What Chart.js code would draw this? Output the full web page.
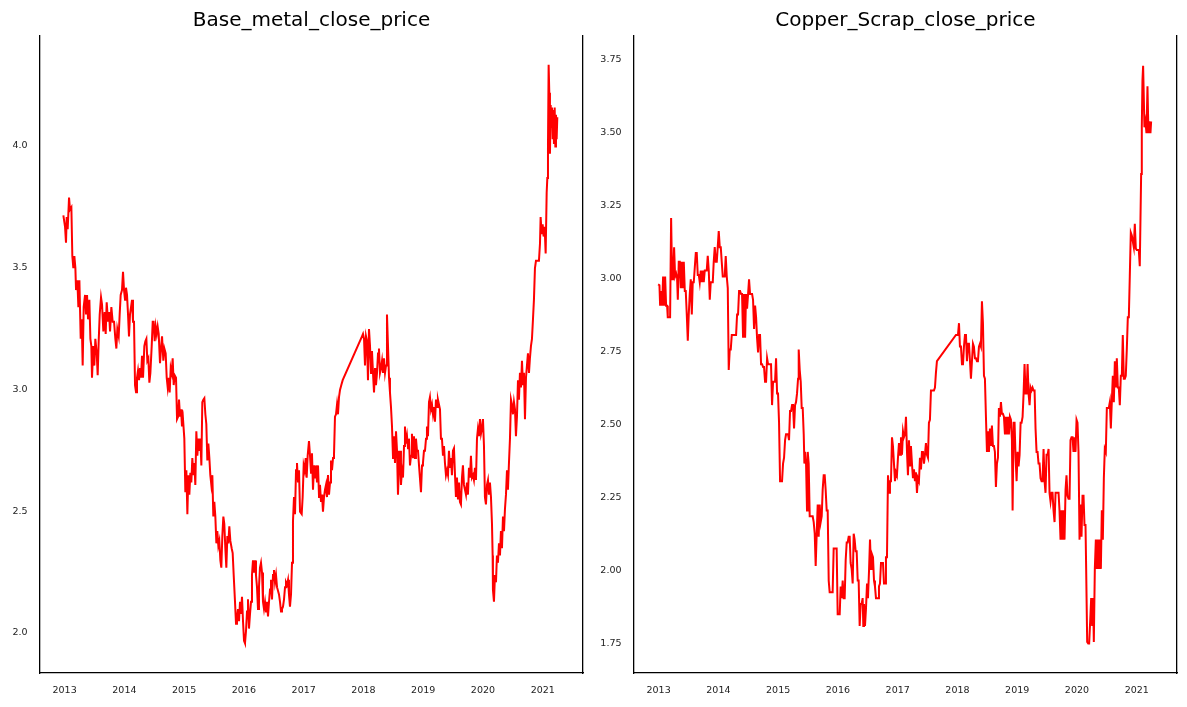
<!DOCTYPE html>
<html><head><meta charset="utf-8">
<script src="https://cdn.jsdelivr.net/npm/chart.js@4.4.1/dist/chart.umd.min.js"></script>
<style>
html,body{margin:0;padding:0;background:#fff;overflow:hidden;width:1187px;height:707px;}
#wrap{position:relative;width:1187px;height:707px;overflow:hidden;background:#fff;}
canvas{position:absolute;top:0;}
#c1{left:0px;} #c2{left:594px;}
</style></head><body>
<div id="wrap"><canvas id="c1" width="623" height="707"></canvas><canvas id="c2" width="623" height="707"></canvas></div>
<script>
const yearTicks = [2013, 2014, 2015, 2016, 2017, 2018, 2019, 2020, 2021];
const baseTicks = [2.0, 2.5, 3.0, 3.5, 4.0];
const scrapTicks = [1.75, 2.00, 2.25, 2.50, 2.75, 3.00, 3.25, 3.50, 3.75];

const baseDates = [
2012.979,2013.007,2013.023,2013.035,2013.051,2013.074,2013.090,2013.113,2013.129,2013.146,2013.163,2013.180,2013.191,2013.213,2013.230,2013.247,2013.269,2013.286,2013.302,2013.319,
2013.342,2013.358,2013.375,2013.392,2013.414,2013.431,2013.447,2013.458,2013.481,2013.497,2013.514,2013.537,2013.553,2013.570,2013.587,2013.609,2013.626,2013.648,2013.670,2013.687,
2013.704,2013.726,2013.743,2013.760,2013.782,2013.804,2013.827,2013.849,2013.866,2013.882,2013.905,2013.921,2013.938,2013.960,2013.977,2013.994,2014.011,2014.027,2014.044,2014.061,
2014.077,2014.094,2014.111,2014.128,2014.144,2014.161,2014.178,2014.195,2014.211,2014.228,2014.245,2014.262,2014.278,2014.295,2014.312,2014.334,2014.351,2014.368,2014.384,2014.401,
2014.418,2014.435,2014.457,2014.474,2014.490,2014.507,2014.524,2014.541,2014.557,2014.574,2014.596,2014.613,2014.630,2014.652,2014.669,2014.691,2014.708,2014.725,2014.741,2014.758,
2014.775,2014.792,2014.808,2014.825,2014.842,2014.864,2014.881,2014.898,2014.914,2014.931,2014.948,2014.964,2014.981,2015.003,2015.020,2015.037,2015.054,2015.070,2015.087,2015.104,
2015.120,2015.137,2015.154,2015.171,2015.187,2015.204,2015.221,2015.238,2015.254,2015.271,2015.288,2015.304,2015.321,2015.338,2015.355,2015.371,2015.388,2015.405,2015.422,2015.438,
2015.455,2015.472,2015.488,2015.505,2015.522,2015.539,2015.555,2015.572,2015.589,2015.606,2015.622,2015.639,2015.656,2015.672,2015.689,2015.706,2015.723,2015.739,2015.756,2015.773,
2015.795,2015.812,2015.829,2015.851,2015.868,2015.884,2015.901,2015.918,2015.935,2015.951,2015.968,2015.985,2016.002,2016.018,2016.035,2016.052,2016.068,2016.085,2016.102,2016.119,
2016.135,2016.152,2016.169,2016.186,2016.202,2016.219,2016.236,2016.252,2016.269,2016.286,2016.303,2016.319,2016.336,2016.353,2016.370,2016.386,2016.403,2016.420,2016.437,2016.453,
2016.470,2016.487,2016.503,2016.520,2016.537,2016.554,2016.570,2016.587,2016.604,2016.621,2016.637,2016.654,2016.671,2016.688,2016.704,2016.721,2016.738,2016.754,2016.771,2016.788,
2016.805,2016.821,2016.838,2016.855,2016.872,2016.888,2016.905,2016.922,
2016.939,2016.967,2016.983,2017.000,2017.017,2017.034,2017.050,2017.067,2017.089,2017.106,2017.123,2017.139,2017.156,2017.173,2017.190,2017.206,2017.223,2017.240,2017.257,2017.273,
2017.290,2017.307,2017.323,2017.340,2017.357,2017.374,2017.390,2017.407,2017.424,2017.441,2017.457,2017.474,2017.491,2017.507,2017.524,2017.541,2017.558,2017.574,2017.591,2017.608,
2017.630,2017.653,2017.976,2017.993,2018.010,2018.026,2018.043,2018.060,2018.076,2018.093,2018.110,2018.127,2018.143,2018.160,2018.177,2018.194,2018.210,2018.227,2018.244,2018.260,
2018.277,2018.294,2018.311,2018.327,2018.344,2018.361,2018.378,2018.394,2018.411,2018.428,2018.444,2018.461,2018.478,2018.495,2018.511,2018.528,2018.545,2018.562,2018.578,2018.595,
2018.612,2018.628,2018.645,2018.662,2018.679,2018.695,2018.712,2018.729,2018.746,2018.762,2018.779,2018.796,2018.812,2018.829,2018.846,2018.863,2018.879,2018.896,2018.913,2018.930,
2018.946,2018.963,2018.980,2018.996,2019.013,2019.030,2019.047,2019.063,2019.080,2019.097,2019.113,2019.130,2019.147,2019.164,2019.180,2019.197,2019.214,2019.231,2019.247,2019.264,
2019.281,2019.297,2019.314,2019.331,2019.348,2019.364,2019.381,2019.398,2019.415,2019.431,2019.448,2019.465,2019.481,2019.498,2019.515,2019.532,2019.548,2019.565,2019.582,2019.599,
2019.615,2019.632,2019.649,2019.665,2019.682,2019.699,2019.716,2019.732,2019.749,2019.766,2019.783,2019.799,2019.816,2019.833,2019.849,2019.866,2019.883,2019.900,2019.916,2019.933,
2019.950,2019.967,2019.983,2020.000,2020.017,2020.033,2020.050,2020.067,2020.084,2020.100,2020.117,2020.134,2020.151,2020.162,2020.167,2020.184,2020.201,2020.218,2020.234,2020.251,
2020.268,2020.285,2020.301,2020.318,2020.335,2020.352,2020.368,2020.385,2020.402,2020.418,2020.435,2020.452,2020.469,2020.485,2020.502,2020.519,2020.536,2020.552,2020.569,2020.586,
2020.602,2020.619,2020.636,2020.653,2020.669,2020.686,2020.703,2020.720,2020.736,2020.753,2020.770,2020.786,2020.803,2020.820,2020.837,2020.853,2020.870,2020.887,2020.904,2020.920,
2020.937,2020.954,2020.965,2020.982,2020.999,2021.015,2021.032,2021.049,2021.066,2021.077,2021.088,2021.099,2021.110,2021.121,2021.133,2021.144,2021.155,2021.166,2021.177,2021.188,
2021.200,2021.211,2021.222,2021.233,2021.244
];
const basePrices = [
3.707,3.66,3.595,3.70,3.65,3.78,3.73,3.74,3.54,3.49,3.54,3.49,3.40,3.44,3.33,3.44,3.20,3.28,3.09,3.33,
3.38,3.30,3.38,3.28,3.36,3.20,3.17,3.04,3.17,3.09,3.20,3.14,3.05,3.19,3.30,3.37,3.34,3.23,3.31,3.22,
3.35,3.27,3.31,3.23,3.33,3.27,3.27,3.20,3.16,3.24,3.21,3.30,3.38,3.40,3.475,3.40,3.36,3.41,3.38,3.30,
3.21,3.30,3.33,3.36,3.27,3.27,3.01,2.98,3.04,3.07,3.03,3.08,3.04,3.13,3.04,3.17,3.19,3.20,3.11,3.12,
3.02,3.06,3.17,3.27,3.27,3.19,3.25,3.22,3.25,3.22,3.10,3.16,3.21,3.11,3.16,3.14,3.04,3.00,3.04,2.98,
3.08,3.06,3.12,3.01,3.05,3.04,2.87,2.88,2.95,2.88,2.91,2.84,2.87,2.79,2.57,2.66,2.48,2.64,2.56,2.65,
2.61,2.71,2.64,2.69,2.60,2.82,2.72,2.79,2.74,2.79,2.68,2.94,2.95,2.956,2.89,2.85,2.70,2.77,2.71,2.64,
2.60,2.64,2.47,2.53,2.47,2.36,2.41,2.35,2.37,2.29,2.26,2.39,2.47,2.44,2.34,2.26,2.39,2.36,2.43,2.37,
2.34,2.32,2.23,2.12,2.03,2.05,2.09,2.04,2.12,2.07,2.14,2.04,1.96,1.95,2.00,2.08,2.13,2.01,2.07,2.12,
2.23,2.29,2.24,2.29,2.23,2.18,2.09,2.18,2.26,2.28,2.24,2.12,2.09,2.12,2.08,2.12,2.06,2.12,2.17,2.21,
2.13,2.23,2.25,2.20,2.23,2.18,2.18,2.15,2.12,2.08,2.09,2.10,2.13,2.18,2.20,2.19,2.21,2.15,2.10,2.15,
2.28,2.45,2.55,2.48,2.66,2.69,2.61,2.66,
2.49,2.48,2.55,2.68,2.66,2.71,2.63,2.72,2.78,2.72,2.65,2.73,2.58,2.68,2.63,2.68,2.61,2.68,2.55,2.60,
2.53,2.56,2.49,2.55,2.58,2.60,2.55,2.64,2.56,2.61,2.70,2.66,2.71,2.72,2.88,2.89,2.93,2.89,2.96,2.99,
3.01,3.03,3.21,3.22,3.20,3.09,3.21,3.19,3.03,3.24,3.17,3.06,3.15,3.06,2.98,3.08,3.01,3.06,3.14,3.16,
3.06,3.08,3.11,3.06,3.12,3.06,3.09,3.30,3.17,3.04,2.98,2.92,2.84,2.71,2.80,2.69,2.82,2.74,2.56,2.68,
2.74,2.60,2.66,2.63,2.76,2.84,2.77,2.80,2.75,2.79,2.68,2.72,2.81,2.71,2.80,2.71,2.79,2.74,2.74,2.68,
2.68,2.57,2.68,2.69,2.74,2.74,2.79,2.84,2.80,2.94,2.96,2.91,2.93,2.89,2.92,2.86,2.95,2.92,2.95,2.93,
2.91,2.79,2.79,2.72,2.76,2.69,2.64,2.66,2.64,2.74,2.67,2.71,2.64,2.74,2.75,2.64,2.55,2.63,2.54,2.61,
2.53,2.52,2.63,2.68,2.60,2.58,2.56,2.61,2.56,2.67,2.63,2.72,2.63,2.64,2.62,2.67,2.62,2.79,2.83,2.80,
2.87,2.81,2.83,2.87,2.76,2.55,2.52,2.60,2.62,2.56,2.61,2.55,2.44,2.31,2.17,2.12,2.23,2.20,2.31,2.28,
2.36,2.31,2.41,2.34,2.47,2.41,2.50,2.56,2.66,2.58,2.69,2.79,2.95,2.93,2.89,2.94,2.91,2.80,2.88,3.03,
2.95,3.06,3.00,3.11,3.01,3.06,2.87,3.04,3.09,3.14,3.06,3.12,3.17,3.20,3.28,3.36,3.49,3.52,3.52,3.52,
3.52,3.59,3.70,3.63,3.67,3.62,3.66,3.55,3.80,3.86,3.99,4.325,4.21,3.96,4.16,4.07,4.15,4.02,4.14,4.00,
4.15,3.99,4.12,4.02,4.11
];

const scrapDates = [
2012.992,2013.014,2013.025,2013.042,2013.059,2013.075,2013.092,2013.109,2013.125,2013.142,2013.153,2013.192,2013.209,2013.226,2013.242,2013.259,2013.276,2013.293,2013.309,2013.321,
2013.337,2013.354,2013.371,2013.387,2013.404,2013.421,2013.438,2013.454,2013.471,2013.488,2013.504,2013.521,2013.538,2013.555,2013.571,2013.588,2013.605,2013.622,2013.638,2013.655,
2013.672,2013.688,2013.705,2013.722,2013.739,2013.755,2013.772,2013.789,2013.805,2013.822,2013.839,2013.856,2013.872,2013.906,2013.922,2013.939,2013.956,2013.973,2013.989,2014.006,
2014.023,2014.040,2014.056,2014.073,2014.090,2014.106,2014.123,2014.140,2014.157,2014.173,2014.190,2014.207,2014.224,2014.263,2014.296,2014.313,2014.329,2014.346,2014.363,2014.380,
2014.396,2014.413,2014.430,2014.447,2014.463,2014.480,2014.497,2014.513,2014.530,2014.547,2014.564,2014.580,2014.597,2014.614,2014.631,2014.647,2014.664,2014.681,2014.697,2014.714,
2014.731,2014.748,2014.764,2014.781,2014.798,2014.815,2014.831,2014.848,2014.865,2014.881,2014.898,2014.915,2014.932,2014.948,2014.965,2014.982,2014.998,2015.015,2015.032,2015.049,
2015.065,2015.082,2015.099,2015.116,2015.132,2015.149,2015.166,2015.182,2015.199,2015.216,2015.233,2015.249,2015.266,2015.283,2015.299,2015.316,2015.333,2015.344,2015.361,2015.378,
2015.394,2015.411,2015.428,2015.439,2015.450,2015.467,2015.483,2015.495,2015.511,2015.528,2015.545,2015.561,2015.578,2015.595,2015.612,2015.628,2015.645,2015.662,2015.678,2015.695,
2015.712,2015.729,2015.745,2015.762,2015.779,2015.795,2015.812,2015.829,2015.846,2015.862,2015.879,2015.896,2015.912,2015.929,2015.946,2015.963,2015.979,2015.996,2016.013,2016.030,
2016.046,2016.063,2016.080,2016.096,2016.113,2016.130,2016.147,2016.163,2016.180,2016.197,2016.213,2016.230,2016.247,2016.264,2016.280,2016.297,2016.314,2016.331,2016.347,2016.364,
2016.381,2016.397,2016.414,2016.425,2016.436,2016.453,2016.470,2016.487,2016.503,2016.520,2016.537,2016.554,2016.570,2016.587,2016.604,2016.620,2016.637,2016.654,2016.671,2016.687,
2016.704,2016.721,2016.737,2016.754,2016.771,2016.788,2016.804,2016.821,2016.838,2016.855,2016.871,2016.888,2016.905,2016.921,
2016.938,2016.955,2016.972,2016.988,2017.005,2017.022,2017.039,2017.055,2017.072,2017.089,2017.105,2017.122,2017.139,2017.156,2017.172,2017.189,2017.206,2017.222,2017.239,2017.256,
2017.273,2017.289,2017.306,2017.323,2017.339,2017.356,2017.373,2017.390,2017.406,2017.423,2017.440,2017.456,2017.473,2017.490,2017.507,2017.523,2017.540,2017.557,2017.574,2017.590,
2017.607,2017.624,2017.640,2017.657,2017.975,2018.009,2018.026,2018.042,2018.059,2018.076,2018.093,2018.109,2018.126,2018.143,2018.159,2018.176,2018.193,2018.210,2018.226,2018.243,
2018.260,2018.276,2018.293,2018.310,2018.327,2018.343,2018.360,2018.377,2018.393,2018.410,2018.427,2018.444,2018.460,2018.477,2018.494,2018.510,2018.527,2018.544,2018.561,2018.577,
2018.594,2018.611,2018.627,2018.644,2018.661,2018.678,2018.694,2018.711,2018.728,2018.744,2018.761,2018.778,2018.795,2018.811,2018.828,2018.845,2018.861,2018.878,2018.895,2018.912,
2018.923,2018.940,2018.956,2018.973,2018.990,2019.006,2019.023,2019.040,2019.057,2019.073,2019.090,2019.107,2019.123,2019.140,2019.157,2019.174,2019.190,2019.207,2019.224,2019.240,
2019.257,2019.274,2019.291,2019.307,2019.324,2019.341,2019.357,2019.374,2019.391,2019.408,2019.424,2019.441,2019.458,2019.474,2019.491,2019.508,2019.525,2019.541,2019.558,2019.575,
2019.591,2019.608,2019.625,2019.642,2019.658,2019.675,2019.692,2019.708,2019.725,2019.742,2019.759,2019.775,2019.792,2019.809,2019.825,2019.842,2019.859,2019.876,2019.892,2019.909,
2019.926,2019.942,2019.959,2019.976,2019.993,2020.009,2020.026,2020.043,2020.060,2020.076,2020.093,2020.110,2020.126,2020.143,2020.154,2020.171,2020.188,2020.204,2020.221,2020.238,
2020.254,2020.271,2020.282,2020.299,2020.316,2020.333,2020.349,2020.366,2020.383,2020.400,2020.416,2020.433,2020.450,2020.466,2020.483,2020.500,2020.517,2020.533,2020.550,2020.567,
2020.583,2020.600,2020.617,2020.634,2020.650,2020.667,2020.684,2020.700,2020.717,2020.734,2020.751,2020.767,2020.784,2020.801,2020.817,2020.834,2020.851,2020.868,2020.884,2020.901,
2020.918,2020.934,2020.951,2020.968,2020.985,2021.001,2021.018,2021.035,2021.051,2021.063,2021.074,2021.085,2021.096,2021.107,2021.118,2021.129,2021.146,2021.163,2021.180,2021.196,
2021.213,2021.230,2021.241
];
const scrapPrices = [
2.973,2.97,2.90,2.95,2.90,3.00,2.90,3.00,2.90,2.90,2.86,2.86,3.20,2.99,2.99,3.10,3.00,3.01,2.995,2.92,
3.05,3.05,2.96,3.05,2.96,3.05,2.95,2.95,2.87,2.78,2.87,2.94,2.99,2.87,2.98,2.98,3.03,3.08,3.08,3.005,
3.005,2.98,3.02,2.98,3.02,2.98,3.02,3.02,3.02,3.07,3.02,2.92,2.98,2.98,3.05,3.10,3.05,3.05,3.10,3.155,
3.10,3.10,3.05,3.00,3.00,3.00,3.07,3.00,2.96,2.68,2.75,2.75,2.80,2.80,2.80,2.87,2.87,2.95,2.95,2.94,
2.94,2.79,2.94,2.79,2.94,2.89,2.94,2.99,2.94,2.94,2.94,2.92,2.82,2.90,2.86,2.79,2.74,2.80,2.80,2.70,
2.70,2.69,2.69,2.64,2.64,2.72,2.70,2.70,2.70,2.70,2.56,2.64,2.64,2.64,2.72,2.60,2.60,2.50,2.30,2.30,
2.30,2.36,2.38,2.44,2.46,2.46,2.46,2.44,2.54,2.54,2.56,2.56,2.48,2.56,2.57,2.60,2.65,2.75,2.68,2.64,
2.55,2.55,2.46,2.36,2.40,2.36,2.20,2.40,2.36,2.18,2.18,2.18,2.18,2.16,2.12,2.01,2.12,2.22,2.11,2.22,
2.16,2.18,2.27,2.32,2.32,2.27,2.20,2.20,1.96,1.92,1.92,1.92,1.92,2.07,2.07,2.07,2.07,1.845,1.845,1.845,
1.94,1.90,1.96,1.90,1.90,2.03,2.09,2.09,2.11,2.11,2.02,2.00,1.95,2.12,2.10,2.06,2.06,1.96,1.96,1.805,
1.88,1.88,1.90,1.805,1.88,1.805,1.865,1.95,1.90,1.99,2.10,2.00,2.05,2.04,1.96,1.94,1.90,1.90,1.90,1.94,
1.95,2.02,2.02,2.02,1.95,1.95,2.04,2.04,2.32,2.26,2.30,2.30,2.45,2.42,
2.36,2.30,2.33,2.32,2.38,2.43,2.39,2.45,2.39,2.47,2.45,2.46,2.52,2.40,2.32,2.44,2.35,2.42,2.36,2.31,
2.34,2.30,2.33,2.26,2.31,2.30,2.38,2.34,2.40,2.40,2.36,2.39,2.43,2.39,2.38,2.50,2.51,2.61,2.61,2.61,
2.61,2.62,2.67,2.71,2.80,2.80,2.84,2.76,2.76,2.70,2.70,2.76,2.80,2.80,2.71,2.77,2.77,2.71,2.65,2.71,
2.77,2.76,2.72,2.72,2.71,2.71,2.76,2.77,2.76,2.915,2.84,2.66,2.65,2.52,2.40,2.47,2.40,2.48,2.42,2.49,
2.42,2.42,2.40,2.28,2.36,2.38,2.55,2.52,2.57,2.53,2.53,2.52,2.46,2.52,2.46,2.52,2.46,2.52,2.51,2.44,
2.20,2.50,2.50,2.38,2.30,2.40,2.35,2.39,2.50,2.50,2.52,2.60,2.70,2.60,2.60,2.70,2.60,2.56,2.62,2.61,
2.62,2.61,2.61,2.48,2.40,2.40,2.36,2.36,2.31,2.30,2.30,2.41,2.30,2.26,2.39,2.39,2.41,2.26,2.23,2.26,
2.26,2.20,2.16,2.26,2.26,2.26,2.26,2.20,2.10,2.20,2.10,2.20,2.10,2.27,2.32,2.25,2.24,2.24,2.44,2.45,
2.45,2.40,2.45,2.40,2.51,2.50,2.40,2.10,2.22,2.11,2.25,2.25,2.15,2.15,2.00,1.75,1.745,1.745,1.82,1.90,
1.805,1.90,1.75,2.00,2.10,2.00,2.10,2.00,2.10,2.00,2.20,2.10,2.31,2.41,2.40,2.55,2.55,2.55,2.57,2.48,
2.57,2.66,2.57,2.71,2.62,2.72,2.62,2.62,2.56,2.66,2.66,2.80,2.65,2.65,2.66,2.75,2.86,2.86,3.00,3.15,
3.14,3.12,3.10,3.18,3.095,3.09,3.09,3.09,3.035,3.20,3.35,3.51,3.67,3.72,3.72,3.51,3.53,3.49,3.65,3.49,
3.53,3.49,3.53
];

const FONT = "'DejaVu Sans', 'Liberation Sans', sans-serif";

function makeChart(id, title, dates, prices, yMin, yMax, yTicks, decimals) {
  const pts = dates.map((d, i) => ({ x: d, y: prices[i] }));
  const tickFont = { family: FONT, size: 9.5 };
  const spine = { display: true, color: '#000', width: 1.3 };
  return new Chart(document.getElementById(id), {
    type: 'line',
    data: { datasets: [{ data: pts, borderColor: '#ff0000', borderWidth: 2, pointRadius: 0, tension: 0, fill: false }] },
    options: {
      responsive: false, animation: false, devicePixelRatio: 1,
      layout: { padding: 0 },
      plugins: {
        legend: { display: false }, tooltip: { enabled: false },
        title: { display: true, text: title, color: '#000',
          font: { family: FONT, size: 20, weight: 'normal', lineHeight: 1.2 },
          padding: { top: 9, bottom: 3 } }
      },
      scales: {
        x: { type: 'linear', position: 'bottom', min: 2012.588, max: 2021.674,
          grid: { display: false, drawTicks: false }, border: spine,
          ticks: { color: '#222', font: tickFont, padding: 11.5, maxRotation: 0, autoSkip: false, callback: v => String(v) },
          afterBuildTicks: s => { s.ticks = yearTicks.map(v => ({ value: v })); },
          afterFit: s => { s.height = 34; } },
        y: { type: 'linear', position: 'left', min: yMin, max: yMax,
          grid: { display: false, drawTicks: false }, border: spine,
          ticks: { color: '#222', font: tickFont, padding: 12.5, labelOffset: 2, callback: v => Number(v).toFixed(decimals) },
          afterBuildTicks: s => { s.ticks = yTicks.map(v => ({ value: v })); },
          afterFit: s => { s.width = 40; } },
        yr: { type: 'linear', position: 'right', min: 0, max: 1,
          grid: { display: false, drawTicks: false }, border: spine,
          ticks: { display: false },
          afterFit: s => { s.width = 40; } }
      }
    }
  });
}

makeChart('c1', 'Base_metal_close_price', baseDates, basePrices, 1.8275, 4.4435, baseTicks, 1);
makeChart('c2', 'Copper_Scrap_close_price', scrapDates, scrapPrices, 1.644, 3.822, scrapTicks, 2);
</script>
</body></html>
